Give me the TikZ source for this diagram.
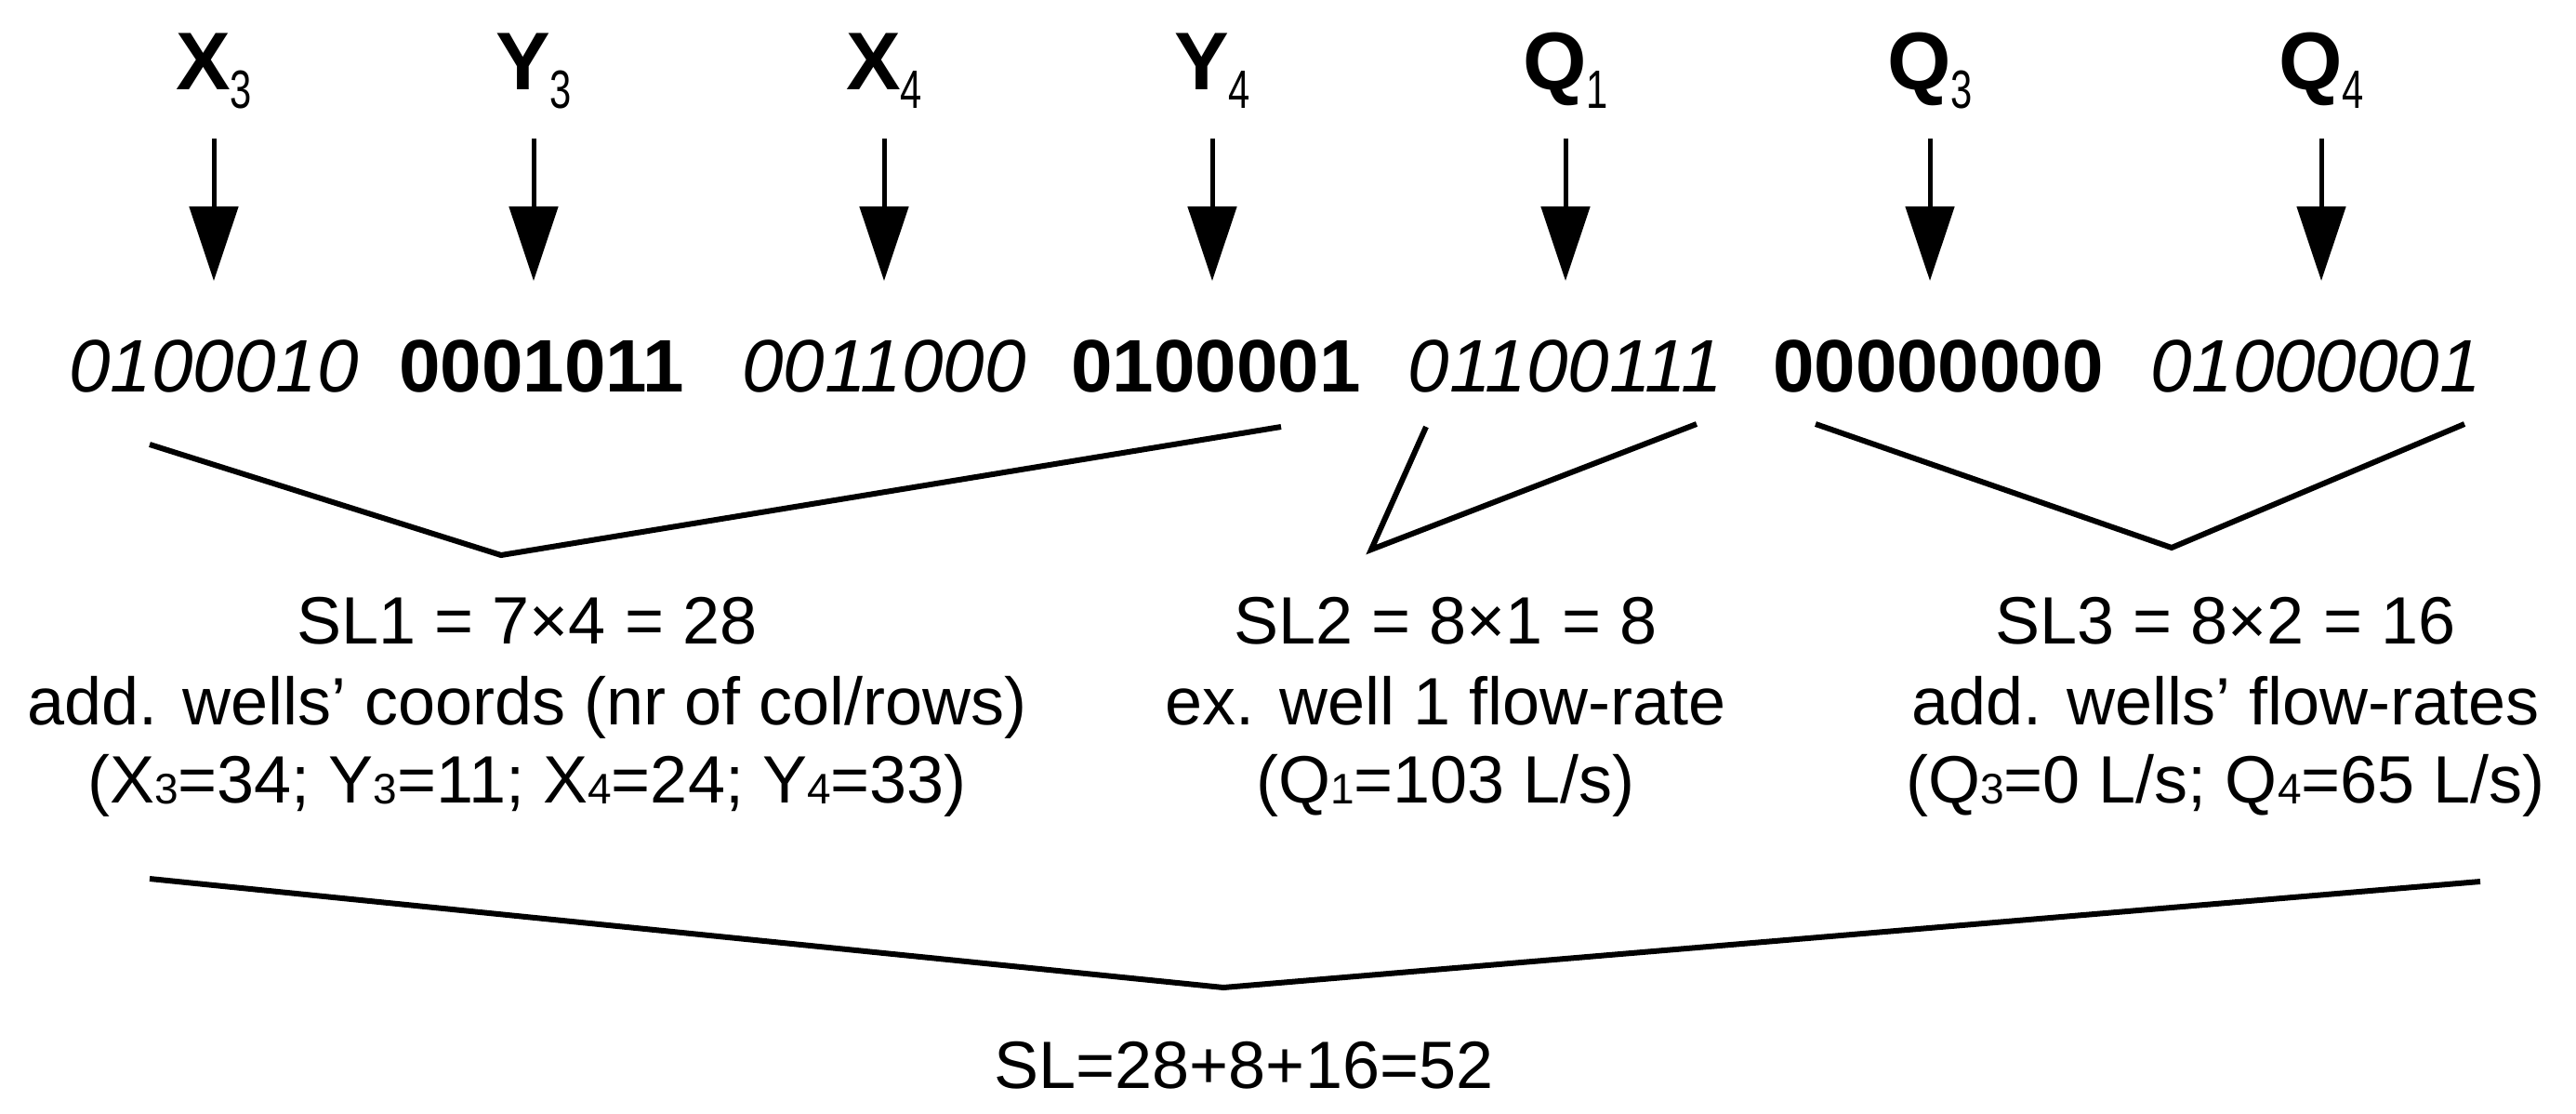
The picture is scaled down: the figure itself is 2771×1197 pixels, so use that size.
\documentclass[tikz,border=0pt]{standalone}
\usepackage{fontspec}
\setmainfont{Liberation Sans}
\usetikzlibrary{arrows.meta}
\begin{document}
\begin{tikzpicture}[x=1pt,y=-1pt,
  lab/.style={font=\fontsize{88}{92}\selectfont\bfseries, inner sep=0, anchor=base},
  bini/.style={font=\fontsize{80}{84}\selectfont\itshape, inner sep=0, anchor=base},
  binb/.style={font=\fontsize{80}{84}\selectfont\bfseries, inner sep=0, anchor=base},
  txt/.style={font=\fontsize{72}{76}\selectfont, inner sep=0, anchor=base},
  arr/.style={line width=5pt,-{Triangle[length=80pt,width=52pt]}},
  brk/.style={line width=6pt,line join=miter}]
\useasboundingbox (0,0) rectangle (2771,1197);
\newcommand{\sbs}[1]{\raisebox{-20pt}{\normalfont\fontsize{58}{58}\selectfont\scalebox{0.72}[1]{#1}}}
\newcommand{\tsb}[1]{\raisebox{-1pt}{\fontsize{46}{46}\selectfont #1}}
\node[lab] (l1) at (230,96) {X\sbs{3}};
\node[lab] (l2) at (574,96) {Y\sbs{3}};
\node[lab] (l3) at (951,96) {X\sbs{4}};
\node[lab] (l4) at (1304,96) {Y\sbs{4}};
\node[lab] (l5) at (1684,96) {Q\sbs{1}};
\node[lab] (l6) at (2076,96) {Q\sbs{3}};
\node[lab] (l7) at (2497,96) {Q\sbs{4}};
\foreach \i/\x in {1/230,2/574,3/951,4/1304,5/1684,6/2076,7/2497}{
  \coordinate (a\i) at (\x,149); \coordinate (b\i) at (\x,302);
  \draw[arr] (a\i) -- (b\i);}
\node[bini] (n1) at (230,421) {0100010};
\node[binb] (n2) at (583,421) {0001011};
\node[bini] (n3) at (951,421) {0011000};
\node[binb] (n4) at (1308,421) {0100001};
\node[bini] (n5) at (1684,421) {01100111};
\node[binb] (n6) at (2085,421) {00000000};
\node[bini] (n7) at (2491,421) {01000001};
\coordinate (s1a) at (161,478); \coordinate (s1v) at (539,597); \coordinate (s1b) at (1378,459);
\coordinate (s2a) at (1534,459); \coordinate (s2v) at (1475,591); \coordinate (s2b) at (1825,456);
\coordinate (s3a) at (1953,456); \coordinate (s3v) at (2336,589); \coordinate (s3b) at (2651,456);
\coordinate (ta) at (161,945); \coordinate (tv) at (1316,1062); \coordinate (tb) at (2668,948);
\draw[brk] (s1a) -- (s1v) -- (s1b);
\draw[brk] (s2a) -- (s2v) -- (s2b);
\draw[brk] (s3a) -- (s3v) -- (s3b);
\draw[brk] (ta) -- (tv) -- (tb);
\node[txt] (t11) at (567,692) {SL1 = 7×4 = 28};
\node[txt] (t12) at (567,779) {add. wells’ coords (nr of col/rows)};
\node[txt] (t13) at (567,863) {(X\tsb{3}=34; Y\tsb{3}=11; X\tsb{4}=24; Y\tsb{4}=33)};
\node[txt] (t21) at (1555,692) {SL2 = 8×1 = 8};
\node[txt] (t22) at (1555,779) {ex. well 1 flow-rate};
\node[txt] (t23) at (1555,863) {(Q\tsb{1}=103 L/s)};
\node[txt] (t31) at (2394,692) {SL3 = 8×2 = 16};
\node[txt] (t32) at (2394,779) {add. wells’ flow-rates};
\node[txt] (t33) at (2394,863) {(Q\tsb{3}=0 L/s; Q\tsb{4}=65 L/s)};
\node[txt] (tot) at (1338,1170) {SL=28+8+16=52};
\end{tikzpicture}
\end{document}
